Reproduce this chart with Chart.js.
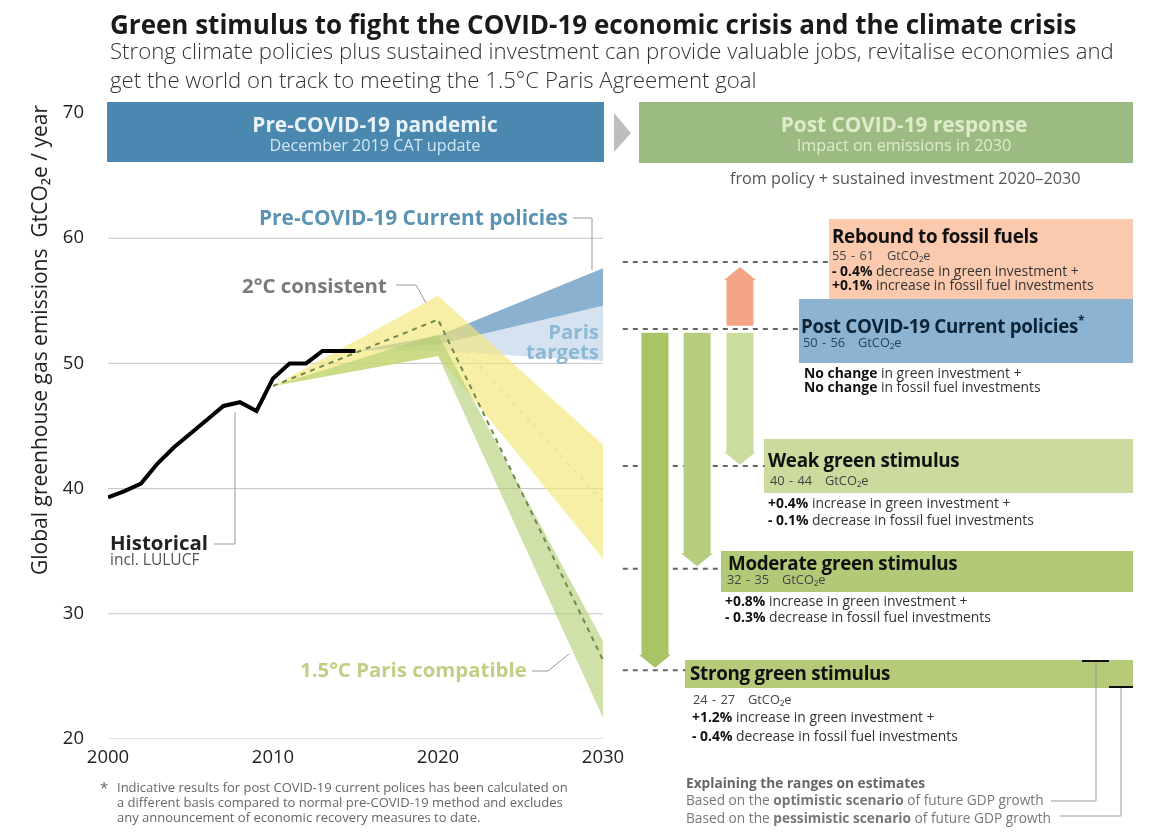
<!DOCTYPE html>
<html>
<head>
    <title>Green stimulus</title>
    <script src="https://cdn.jsdelivr.net/npm/chart.js"></script>
    <style>
        body { margin: 0; background: #fff; font-family: 'Open Sans', sans-serif; color: #222; }
        #wrap { position: relative; width: 1153px; height: 837px; overflow: hidden; }
        canvas { position: absolute; left: 0; top: 0; }
        .box { position: absolute; }
        .t { position: absolute; white-space: nowrap; line-height: 1; transform: translateY(-50%); }
        .c { transform: translate(-50%, -50%); }
        .head { font-weight: 700; font-size: 18.8px; letter-spacing: -0.3px; color: #111; }
        .range { font-size: 12.8px; color: #444; word-spacing: 1px; }
        .inv { font-size: 13.9px; color: #333; }
        .inv b { color: #111; }
        .foot { font-size: 13px; color: #666; }
        .exp { font-size: 13.7px; color: #777; }
        .lab { font-weight: 700; font-size: 20.4px; }
        svg { position: absolute; left: 0; top: 0; }
    </style>
</head>
<body>
<div id="wrap">
    <!-- panels -->
    <div class="box" style="left:829px;top:219px;width:304px;height:80px;background:#fbc9ae"></div>
    <div class="box" style="left:799px;top:299px;width:334px;height:64px;background:#8cb3d1"></div>
    <div class="box" style="left:764px;top:439px;width:369px;height:54px;background:#cbda9d"></div>
    <div class="box" style="left:721px;top:551px;width:412px;height:41px;background:#b2c977"></div>
    <div class="box" style="left:685px;top:660px;width:448px;height:28px;background:#b5cb79"></div>

    <canvas id="chart" width="1153" height="837"></canvas>

    <!-- headers -->
    <div class="box" style="left:107px;top:102px;width:497px;height:60px;background:#4b88b0"></div>
    <div class="box" style="left:639px;top:102px;width:494px;height:61px;background:#9cbb82"></div>

    <svg width="1153" height="837" fill="none" stroke="#999" stroke-width="1">
        <polygon points="614,113 631,133 614,152" fill="#bdbdbd" stroke="none"></polygon>
        <polyline points="573,218 592,218 592,270"></polyline>
        <polyline points="396,285 416,285 426,303"></polyline>
        <polyline points="235,412 235,544 214,544"></polyline>
        <polyline points="532,671 548,671 569,654"></polyline>
        <polyline points="1096,661 1096,801 1051,801"></polyline>
        <polyline points="1121,688 1121,816 1060,816"></polyline>
        <line x1="1082" y1="661" x2="1109" y2="661" stroke="#111" stroke-width="2"></line>
        <line x1="1109" y1="687" x2="1133" y2="687" stroke="#111" stroke-width="2"></line>
    </svg>

    <div class="t" style="left:110px;top:24px;font-weight:700;font-size:26px;color:#1a1a1a">Green stimulus to fight the COVID-19 economic crisis and the climate crisis</div>
    <div class="t" style="left:110px;top:51px;font-weight:300;font-size:22.2px;color:#333">Strong climate policies plus sustained investment can provide valuable jobs, revitalise economies and</div>
    <div class="t" style="left:110px;top:80px;font-weight:300;font-size:22.2px;color:#333">get the world on track to meeting the 1.5°C Paris Agreement goal</div>

    <div class="t c" style="left:375px;top:124px;font-weight:700;font-size:20.8px;color:#e8f2f8">Pre-COVID-19 pandemic</div>
    <div class="t c" style="left:375px;top:145px;font-size:16.2px;color:#d3e6f2">December 2019 CAT update</div>
    <div class="t c" style="left:904px;top:124px;font-weight:700;font-size:20.8px;color:#dfeacb">Post COVID-19 response</div>
    <div class="t c" style="left:904px;top:145px;font-size:16.2px;color:#dfeacb">Impact on emissions in 2030</div>
    <div class="t" style="left:730px;top:178px;font-size:16.2px;color:#555">from policy + sustained investment 2020–2030</div>

    <div class="t c" style="left:39px;top:340px;font-size:21px;color:#222;transform:translate(-50%,-50%) rotate(-90deg)">Global greenhouse gas emissions&nbsp; GtCO₂e / year</div>

    <div class="t lab" style="left:259px;top:217px;color:#5b93b3;font-size:20.9px">Pre-COVID-19 Current policies</div>
    <div class="t lab" style="left:242px;top:285px;color:#7a7a7a">2°C consistent</div>
    <div class="t lab" style="right:554px;top:331px;color:#8db9d6">Paris</div>
    <div class="t lab" style="right:554px;top:351px;color:#8db9d6">targets</div>
    <div class="t lab" style="left:110px;top:542px;color:#222">Historical</div>
    <div class="t" style="left:110px;top:560px;font-size:15.5px;color:#555">incl. LULUCF</div>
    <div class="t lab" style="left:300px;top:669px;color:#bfcf84">1.5°C Paris compatible</div>

    <div class="t head" style="left:832px;top:236px">Rebound to fossil fuels</div>
    <div class="t range" style="left:832px;top:255px">55 - 61 &nbsp; GtCO₂e</div>
    <div class="t inv" style="left:832px;top:271px"><b>- 0.4%</b> decrease in green investment +</div>
    <div class="t inv" style="left:832px;top:285px"><b>+0.1%</b> increase in fossil fuel investments</div>

    <div class="t head" style="left:801px;top:326px;color:#0d2436">Post COVID-19 Current policies<sup style="font-size:12px;line-height:0">*</sup></div>
    <div class="t range" style="left:803px;top:342px;color:#1d4766">50 - 56 &nbsp; GtCO₂e</div>
    <div class="t inv" style="left:804px;top:373px"><b>No change</b> in green investment +</div>
    <div class="t inv" style="left:804px;top:387px"><b>No change</b> in fossil fuel investments</div>

    <div class="t head" style="left:768px;top:460px">Weak green stimulus</div>
    <div class="t range" style="left:770px;top:480px">40 - 44 &nbsp; GtCO₂e</div>
    <div class="t inv" style="left:768px;top:503px"><b>+0.4%</b> increase in green investment +</div>
    <div class="t inv" style="left:768px;top:520px"><b>- 0.1%</b> decrease in fossil fuel investments</div>

    <div class="t head" style="left:728px;top:563px">Moderate green stimulus</div>
    <div class="t range" style="left:727px;top:579px">32 - 35 &nbsp; GtCO₂e</div>
    <div class="t inv" style="left:725px;top:601px"><b>+0.8%</b> increase in green investment +</div>
    <div class="t inv" style="left:725px;top:617px"><b>- 0.3%</b> decrease in fossil fuel investments</div>

    <div class="t head" style="left:690px;top:673px">Strong green stimulus</div>
    <div class="t range" style="left:693px;top:699px">24 - 27 &nbsp; GtCO₂e</div>
    <div class="t inv" style="left:692px;top:717px"><b>+1.2%</b> increase in green investment +</div>
    <div class="t inv" style="left:692px;top:736px"><b>- 0.4%</b> decrease in fossil fuel investments</div>

    <div class="t exp" style="left:686px;top:783px;font-weight:700;color:#666">Explaining the ranges on estimates</div>
    <div class="t exp" style="left:686px;top:800px">Based on the <b>optimistic scenario</b> of future GDP growth</div>
    <div class="t exp" style="left:686px;top:818px">Based on the <b>pessimistic scenario</b> of future GDP growth</div>

    <div class="t foot" style="left:100px;top:787px;font-size:15px">*</div>
    <div class="t foot" style="left:117px;top:787px">Indicative results for post COVID-19 current polices has been calculated on</div>
    <div class="t foot" style="left:117px;top:802px">a different basis compared to normal pre-COVID-19 method and excludes</div>
    <div class="t foot" style="left:117px;top:817px">any announcement of economic recovery measures to date.</div>
</div>

<script>
    const xTicks = [2000, 2010, 2020, 2030];
    const yTicks = [20, 30, 40, 50, 60, 70];

    const histYears = [2000, 2001, 2002, 2003, 2004, 2005, 2006, 2007, 2008, 2009, 2010, 2011, 2012, 2013, 2014, 2015];
    const histValues = [39.3, 39.8, 40.4, 42.0, 43.3, 44.4, 45.5, 46.6, 46.9, 46.2, 48.8, 50.0, 50.0, 51.0, 51.0, 51.0];

    const pathwayYears = [2010, 2020, 2030];
    const twoCUpper = [48.2, 55.4, 43.5];
    const twoCLower = [48.2, 50.6, 34.4];
    const twoCMid = [48.2, 53.5, 38.9];
    const oneFiveUpper = [48.2, 52.3, 27.8];
    const oneFiveLower = [48.2, 50.6, 21.7];
    const oneFiveMid = [48.2, 53.5, 26.3];

    const policyYears = [2015, 2020, 2030];
    const currentUpper = [51.0, 52.2, 57.6];
    const currentLower = [51.0, 51.5, 54.6];
    const parisLower = [51.0, 51.0, 50.2];

    // levels of the 2030 outcomes and the year position where the panel begins
    const levelValues = [58.1, 52.75, 41.8, 33.6, 25.5];
    const levelEnds = [2043.7, 2041.9, 2039.8, 2037.1, 2035];
    const levelStart = 2031.2;

    // arrows between the levels
    const arrowYears = [2033.15, 2035.7, 2038.3, 2038.3];
    const arrowFrom = [52.45, 52.45, 52.45, 53.0];
    const arrowTo = [25.7, 33.8, 41.9, 57.7];
    const arrowColors = ['#a9c465', '#b6cd80', '#cbdc9f', '#f3a586'];

    function pts(xs, ys) {
        return xs.map((x, i) => ({ x: x, y: ys[i] }));
    }

    function line(xs, ys, opts) {
        return Object.assign({
            data: pts(xs, ys), showLine: true, pointRadius: 0, borderWidth: 0, borderColor: 'transparent', tension: 0, fill: false
        }, opts);
    }

    const datasets = [];
    // grid lines stop at 2030, the axis runs on under the right hand panels
    yTicks.forEach(v => datasets.push(line([2000, 2030], [v, v], { borderColor: '#c4c4c4', borderWidth: 1, order: 20 })));

    function band(xs, upper, lower, color, order) {
        const idx = datasets.length;
        datasets.push(line(xs, upper, { fill: { target: idx + 1 }, backgroundColor: color, order: order }));
        datasets.push(line(xs, lower, { order: order }));
    }

    band(policyYears, currentLower, parisLower, '#d5e2f0', 12);
    band(policyYears, currentUpper, currentLower, '#8ab1cf', 11);
    band(pathwayYears, twoCUpper, twoCLower, 'rgba(245,230,120,0.65)', 10);
    band(pathwayYears, oneFiveUpper, oneFiveLower, 'rgba(175,205,110,0.6)', 9);

    datasets.push(line(pathwayYears, twoCMid, { borderColor: '#eadf96', borderWidth: 1.5, borderDash: [4, 6], order: 8 }));
    datasets.push(line(pathwayYears, oneFiveMid, { borderColor: '#6f8a4c', borderWidth: 2, borderDash: [5, 5], order: 7 }));
    datasets.push(line(histYears, histValues, { borderColor: '#000', borderWidth: 4, order: 6 }));

    levelValues.forEach((v, i) => {
        datasets.push(line([levelStart, levelEnds[i]], [v, v], { borderColor: '#666', borderWidth: 2, borderDash: [5, 5], order: 5 }));
    });

    const arrowPlugin = {
        id: 'arrows',
        afterDatasetsDraw(chart) {
            const ctx = chart.ctx, x = chart.scales.x, y = chart.scales.y;
            arrowYears.forEach((yr, i) => {
                const cx = x.getPixelForValue(yr), y0 = y.getPixelForValue(arrowFrom[i]), y1 = y.getPixelForValue(arrowTo[i]);
                const dir = y1 > y0 ? 1 : -1, neck = y1 - dir * 13;
                ctx.fillStyle = arrowColors[i];
                ctx.beginPath();
                ctx.moveTo(cx - 13.5, y0);
                ctx.lineTo(cx + 13.5, y0);
                ctx.lineTo(cx + 13.5, neck);
                ctx.lineTo(cx + 16, neck);
                ctx.lineTo(cx, y1);
                ctx.lineTo(cx - 16, neck);
                ctx.lineTo(cx - 13.5, neck);
                ctx.closePath();
                ctx.fill();
            });
        }
    };

    new Chart(document.getElementById('chart'), {
        type: 'scatter',
        data: { datasets: datasets },
        plugins: [arrowPlugin],
        options: {
            responsive: false,
            animation: false,
            layout: { padding: { top: 113, right: 20 } },
            plugins: { legend: { display: false }, tooltip: { enabled: false } },
            scales: {
                x: {
                    type: 'linear',
                    min: 2000,
                    max: 2062.12,
                    border: { display: false },
                    grid: { display: false },
                    afterFit(scale) { scale.height = 98; },
                    afterBuildTicks(scale) { scale.ticks = xTicks.map(v => ({ value: v })); },
                    ticks: { color: '#222', font: { family: 'Open Sans', size: 18.5 }, padding: 0, maxRotation: 0, autoSkip: false, callback: v => String(v) }
                },
                y: {
                    min: 20,
                    max: 70,
                    border: { display: false },
                    grid: { display: false },
                    afterFit(scale) { scale.width = 108; },
                    afterBuildTicks(scale) { scale.ticks = yTicks.map(v => ({ value: v })); },
                    ticks: { color: '#222', font: { family: 'Open Sans', size: 18.5 }, padding: 16 }
                }
            }
        }
    });
</script>
</body>
</html>
